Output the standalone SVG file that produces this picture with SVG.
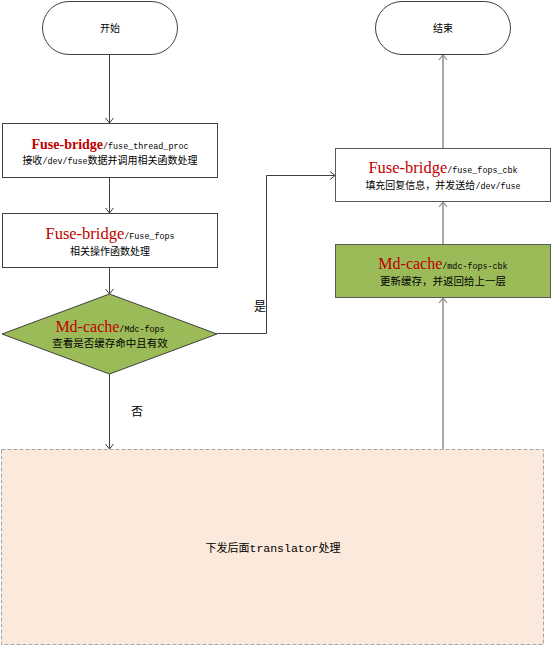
<svg xmlns="http://www.w3.org/2000/svg" width="553" height="647" viewBox="0 0 553 647">
<style>
.term{fill:#fff;stroke:#404040;stroke-width:1}
.box{fill:#fff;stroke:#404040;stroke-width:1}
.gbox{fill:#9BBB59;stroke:#595959;stroke-width:1}
.bot{fill:#FBE9DB;stroke:#A6A6A6;stroke-width:1;stroke-dasharray:4 2}
.cn{font-family:"Noto Sans CJK SC",sans-serif;font-size:10px;fill:#000;text-anchor:middle}
.red{font-family:"Liberation Serif",serif;fill:#C00000}
.mono{font-family:"Liberation Mono",monospace;font-size:8.4px;fill:#000}
.c1{fill:none;stroke:#404040;stroke-width:1}
.c2{fill:none;stroke:#8C8C8C;stroke-width:1.5}
.lbl{font-family:"Noto Sans CJK SC",sans-serif;font-size:12px;fill:#000;text-anchor:middle}
</style>
<defs>
<marker id="a1" markerUnits="userSpaceOnUse" markerWidth="12" markerHeight="12" refX="6" refY="6" orient="auto" viewBox="0 0 12 12">
<path d="M1 2 L6 6 L1 10" fill="none" stroke="#404040" stroke-width="1"/>
</marker>
<marker id="a2" markerUnits="userSpaceOnUse" markerWidth="12" markerHeight="12" refX="6" refY="6" orient="auto" viewBox="0 0 12 12">
<path d="M1 2 L6 6 L1 10" fill="none" stroke="#8C8C8C" stroke-width="1.2"/>
</marker>
</defs>

<g id="bottom">
<rect class="bot" x="1.5" y="449.5" width="542" height="195"/>
<text class="cn" x="273" y="552" style="font-size:11px">下发后面<tspan class="mono" style="font-size:11.5px">translator</tspan>处理</text>
</g>

<g id="connectors">
<path class="c1" d="M109.5 55 V123" marker-end="url(#a1)"/>
<path class="c1" d="M109.5 177 V213" marker-end="url(#a1)"/>
<path class="c1" d="M109.5 267 V294" marker-end="url(#a1)"/>
<path class="c1" d="M109.5 374 V449" marker-end="url(#a1)"/>
<path class="c1" d="M217 333.5 H266.5 V175.5 H335" marker-end="url(#a1)"/>
<path class="c2" d="M443 449 V298" marker-end="url(#a2)"/>
<path class="c2" d="M443 244 V202" marker-end="url(#a2)"/>
<path class="c2" d="M443 148 V55" marker-end="url(#a2)"/>
<text class="lbl" x="260" y="311">是</text>
<text class="lbl" x="137" y="416">否</text>
</g>

<g id="start">
<rect class="term" x="42.5" y="1.5" width="135" height="53" rx="26.5"/>
<text class="cn" x="110" y="32">开始</text>
</g>

<g id="end">
<rect class="term" x="375.5" y="1.5" width="135" height="53" rx="26.5"/>
<text class="cn" x="443" y="32">结束</text>
</g>

<g id="box1">
<rect class="box" x="2.5" y="123.5" width="215" height="54"/>
<text class="cn" x="110" y="148.5"><tspan class="red" style="font-size:14px;font-weight:bold">Fuse-bridge</tspan><tspan class="mono">/fuse_thread_proc</tspan></text>
<text class="cn" x="110" y="163.5">接收<tspan class="mono">/dev/fuse</tspan>数据并调用相关函数处理</text>
</g>

<g id="box2">
<rect class="box" x="2.5" y="213.5" width="215" height="54"/>
<text class="cn" x="110" y="238.5"><tspan class="red" style="font-size:16.5px">Fuse-bridge</tspan><tspan class="mono">/Fuse_fops</tspan></text>
<text class="cn" x="110" y="254.5">相关操作函数处理</text>
</g>

<g id="decision">
<polygon class="gbox" points="109.5,294 217,334 109.5,374 2,334" style="stroke:#404040"/>
<text class="cn" x="110" y="331.5"><tspan class="red" style="font-size:16px">Md-cache</tspan><tspan class="mono">/Mdc-fops</tspan></text>
<text class="cn" x="110" y="347" style="font-size:10.5px">查看是否缓存命中且有效</text>
</g>

<g id="box3">
<rect class="box" x="335.5" y="148.5" width="215" height="53" style="stroke:#595959"/>
<text class="cn" x="443" y="173"><tspan class="red" style="font-size:16.5px">Fuse-bridge</tspan><tspan class="mono">/fuse_fops_cbk</tspan></text>
<text class="cn" x="443" y="189">填充回复信息，并发送给<tspan class="mono">/dev/fuse</tspan></text>
</g>

<g id="box4">
<rect class="gbox" x="335.5" y="244.5" width="215" height="53"/>
<text class="cn" x="443" y="269"><tspan class="red" style="font-size:16px">Md-cache</tspan><tspan class="mono">/mdc-fops-cbk</tspan></text>
<text class="cn" x="443" y="284.5" style="font-size:10.5px">更新缓存，并返回给上一层</text>
</g>
</svg>
